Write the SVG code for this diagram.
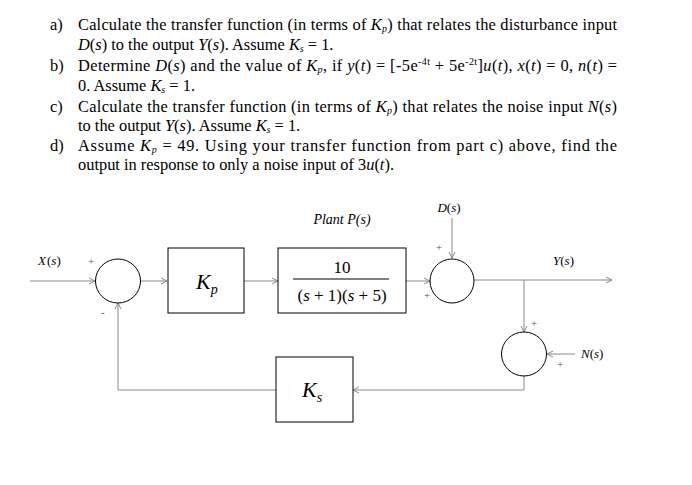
<svg xmlns="http://www.w3.org/2000/svg" width="692" height="485" viewBox="0 0 692 485">
<style>
text{font-family:"Liberation Serif","Times New Roman",serif;fill:#000}
.q{font-size:16.4px}
.i{font-style:italic}
.w{stroke:#888;stroke-width:1;fill:none}
.b{stroke:#000;stroke-width:1;fill:#fff}
.s{font-size:11px;fill:#555}
</style>
<defs><marker id="a" markerWidth="8" markerHeight="8" refX="7" refY="4" orient="auto" markerUnits="userSpaceOnUse"><path d="M1,1 L7,4 L1,7" fill="none" stroke="#888"/></marker></defs>
<rect width="692" height="485" fill="#fff"/>
<g id="text" class="q">
<text x="50" y="30">a)</text><text x="78" y="30" textLength="539" lengthAdjust="spacing">Calculate the transfer function (in terms of <tspan class="i">K<tspan font-size="10" dy="2">p</tspan></tspan><tspan dy="-2">) that relates the disturbance input</tspan></text>
<text x="78" y="50"><tspan class="i">D</tspan>(<tspan class="i">s</tspan>) to the output <tspan class="i">Y</tspan>(<tspan class="i">s</tspan>). Assume <tspan class="i">K<tspan font-size="10" dy="2">s</tspan></tspan><tspan dy="-2"> = 1.</tspan></text>
<text x="50" y="71">b)</text><text x="78" y="71" textLength="539" lengthAdjust="spacing">Determine <tspan class="i">D</tspan>(<tspan class="i">s</tspan>) and the value of <tspan class="i">K<tspan font-size="10" dy="2">p</tspan></tspan><tspan dy="-2">, if </tspan><tspan class="i">y</tspan>(<tspan class="i">t</tspan>) = [-5e<tspan font-size="10" dy="-6">-4t</tspan><tspan dy="6"> + 5e</tspan><tspan font-size="10" dy="-6">-2t</tspan><tspan dy="6">]</tspan><tspan class="i">u</tspan>(<tspan class="i">t</tspan>), <tspan class="i">x</tspan>(<tspan class="i">t</tspan>) = 0, <tspan class="i">n</tspan>(<tspan class="i">t</tspan>) =</text>
<text x="78" y="91">0. Assume <tspan class="i">K<tspan font-size="10" dy="2">s</tspan></tspan><tspan dy="-2"> = 1.</tspan></text>
<text x="50" y="112">c)</text><text x="78" y="112" textLength="539" lengthAdjust="spacing">Calculate the transfer function (in terms of <tspan class="i">K<tspan font-size="10" dy="2">p</tspan></tspan><tspan dy="-2">) that relates the noise input </tspan><tspan class="i">N</tspan>(<tspan class="i">s</tspan>)</text>
<text x="78" y="131">to the output <tspan class="i">Y</tspan>(<tspan class="i">s</tspan>). Assume <tspan class="i">K<tspan font-size="10" dy="2">s</tspan></tspan><tspan dy="-2"> = 1.</tspan></text>
<text x="50" y="151">d)</text><text x="78" y="151" textLength="539" lengthAdjust="spacing">Assume <tspan class="i">K<tspan font-size="10" dy="2">p</tspan></tspan><tspan dy="-2"> = 49. Using your transfer function from part c) above, find the</tspan></text>
<text x="78" y="170">output in response to only a noise input of 3<tspan class="i">u</tspan>(<tspan class="i">t</tspan>).</text>
</g>
<g id="connectors">
<line class="w" x1="30" y1="281" x2="95" y2="281" marker-end="url(#a)"/>
<line class="w" x1="141" y1="281" x2="167" y2="281" marker-end="url(#a)"/>
<line class="w" x1="244" y1="281" x2="278" y2="281" marker-end="url(#a)"/>
<line class="w" x1="406" y1="281" x2="430" y2="281" marker-end="url(#a)"/>
<line class="w" x1="452" y1="218" x2="452" y2="258" marker-end="url(#a)"/>
<line class="w" x1="474" y1="280" x2="612" y2="280" marker-end="url(#a)"/>
<line class="w" x1="524" y1="280" x2="524" y2="332" marker-end="url(#a)"/>
<line class="w" x1="575" y1="354" x2="547" y2="354" marker-end="url(#a)"/>
<polyline class="w" points="524,376 524,390 353,390" marker-end="url(#a)"/>
<polyline class="w" points="276,390 118,390 118,303" marker-end="url(#a)"/>
</g>
<g id="sum1"><ellipse class="b" cx="118" cy="281" rx="22.5" ry="22"/><text x="88" y="265" class="s">+</text><text x="101" y="316" class="s">-</text><text x="38" y="265" font-size="13" class="i">X</text><text x="47" y="265" font-size="13">(<tspan class="i">s</tspan>)</text></g>
<g id="kp"><rect class="b" x="168" y="248" width="76" height="65"/><text x="196" y="289" font-size="22" class="i">K<tspan font-size="14" dy="5">p</tspan></text></g>
<g id="plant"><rect class="b" x="278" y="248" width="128" height="65"/><text x="342" y="224" font-size="14" text-anchor="middle" class="i">Plant P(s)</text><text x="342" y="273" font-size="17" text-anchor="middle">10</text><line x1="293" y1="279" x2="389" y2="279" stroke="#000"/><text x="342" y="301" font-size="17" text-anchor="middle">(<tspan class="i">s</tspan> + 1)(<tspan class="i">s</tspan> + 5)</text></g>
<g id="sum2"><ellipse class="b" cx="452" cy="281" rx="22" ry="22"/><text x="436" y="251" class="s">+</text><text x="424" y="299" class="s">+</text><text x="449" y="212" font-size="13" text-anchor="middle"><tspan class="i">D</tspan>(<tspan class="i">s</tspan>)</text><text x="553" y="265" font-size="13" class="i">Y<tspan font-style="normal">(</tspan>s<tspan font-style="normal">)</tspan></text></g>
<g id="sum3"><ellipse class="b" cx="524" cy="354" rx="22.5" ry="22"/><text x="531" y="327" class="s">+</text><text x="557" y="368" class="s">+</text><text x="581" y="358" font-size="13" class="i">N<tspan font-style="normal">(</tspan>s<tspan font-style="normal">)</tspan></text></g>
<g id="ks"><rect class="b" x="276" y="357" width="77" height="65"/><text x="302" y="397" font-size="22" class="i">K<tspan font-size="14" dy="5">s</tspan></text></g>
</svg>
